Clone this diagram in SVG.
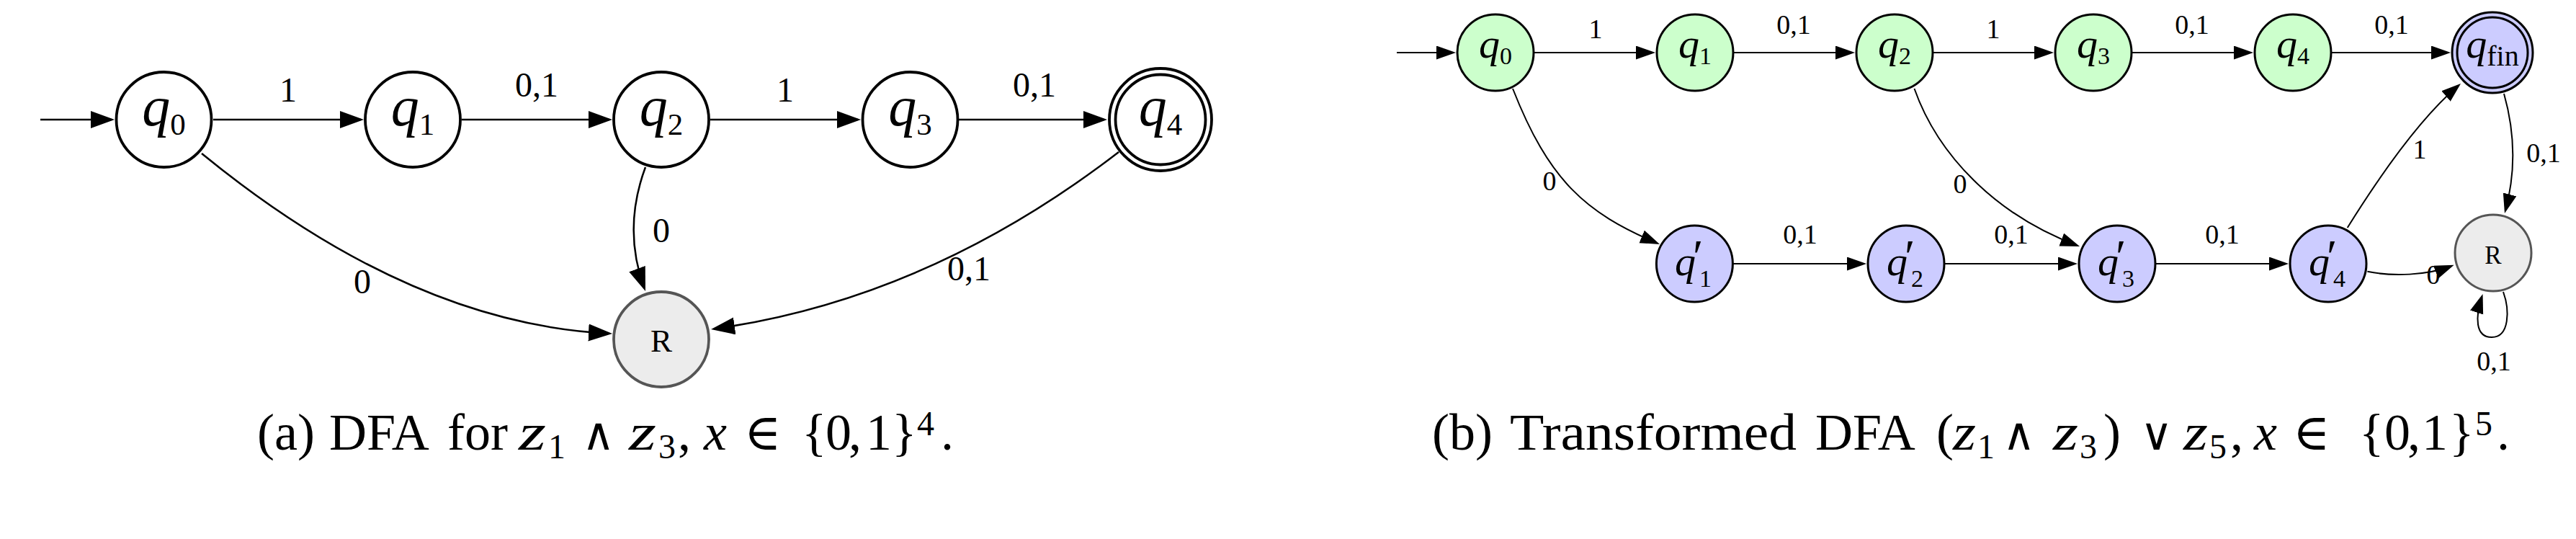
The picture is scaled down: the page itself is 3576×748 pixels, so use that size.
<svg xmlns="http://www.w3.org/2000/svg" width="3576" height="748" viewBox="0 0 3576 748">
<style>
text{font-family:"Liberation Serif","DejaVu Serif",serif;fill:#000}
.it{font-style:italic}
.nl{fill:#fff;stroke:#000;stroke-width:3.8}
.ng{fill:#ccffcc;stroke:#000;stroke-width:3}
.nb{fill:#ccccff;stroke:#000;stroke-width:3}
.rl{fill:#ececec;stroke:#555;stroke-width:3.8}
.rr{fill:#ececec;stroke:#555;stroke-width:3}
.el{fill:none;stroke:#000;stroke-width:2.5}
.er{fill:none;stroke:#000;stroke-width:2}
.lbL{font-size:48px;text-anchor:middle}
.lbR{font-size:38px;text-anchor:middle}
.qL{font-size:78px;text-anchor:middle}
.qR{font-size:58px;text-anchor:middle}
.qP{font-size:58px}
.subL{font-size:43px}
.subR{font-size:34px}
.cap{font-size:72px}
.cs{font-size:48px}
.op{font-size:62px}
.el2{font-size:70px}
</style>
<defs>
<marker id="aL" markerUnits="userSpaceOnUse" markerWidth="34" markerHeight="26" refX="29" refY="12" orient="auto"><path d="M0,0 L33,12 L0,24 z" fill="#000"/></marker>
<marker id="aR" markerUnits="userSpaceOnUse" markerWidth="28" markerHeight="20" refX="23" refY="9.5" orient="auto"><path d="M0,0 L27,9.5 L0,19 z" fill="#000"/></marker>
</defs>

<g id="connectors">
<!-- left DFA -->
<path class="el" d="M56,166 H155" marker-end="url(#aL)"/>
<path class="el" d="M296,166 H501" marker-end="url(#aL)"/>
<path class="el" d="M641,166 H846" marker-end="url(#aL)"/>
<path class="el" d="M986,166 H1191" marker-end="url(#aL)"/>
<path class="el" d="M1331,166 H1533" marker-end="url(#aL)"/>
<path class="el" d="M280,213 C472,370 662,454 846,462.8" marker-end="url(#aL)"/>
<path class="el" d="M896,232 C874.7,289.3 874.7,346.7 894.6,400.3" marker-end="url(#aL)"/>
<path class="el" d="M1553,211 C1376.3,347 1187.7,429 991,456.4" marker-end="url(#aL)"/>
<!-- right DFA -->
<path class="er" d="M1939,73 H2017" marker-end="url(#aR)"/>
<path class="er" d="M2129,73 H2294" marker-end="url(#aR)"/>
<path class="er" d="M2406,73 H2571" marker-end="url(#aR)"/>
<path class="er" d="M2683,73 H2847" marker-end="url(#aR)"/>
<path class="er" d="M2959,73 H3124" marker-end="url(#aR)"/>
<path class="er" d="M3236,73 H3398" marker-end="url(#aR)"/>
<path class="er" d="M2405.4,366 H2587" marker-end="url(#aR)"/>
<path class="er" d="M2699,366 H2880" marker-end="url(#aR)"/>
<path class="er" d="M2992,366 H3173" marker-end="url(#aR)"/>
<path class="er" d="M2100,123 C2150,250 2200,295 2300.3,337.4" marker-end="url(#aR)"/>
<path class="er" d="M2657.5,123 C2690,215 2770,298 2883.3,340.6" marker-end="url(#aR)"/>
<path class="er" d="M3258.7,316 C3317,222.5 3369.3,155.8 3413,118.6" marker-end="url(#aR)"/>
<path class="er" d="M3476,130 C3491.7,185.3 3492,240.7 3478,292.1" marker-end="url(#aR)"/>
<path class="er" d="M3286.4,376.8 C3321,384 3369.4,382.3 3402.9,369.3" marker-end="url(#aR)"/>
<path class="er" d="M3475,405 C3484,430 3484,468 3459,468 C3436,468 3436,440 3445.3,411.8" marker-end="url(#aR)"/>
<!-- edge labels left -->
<text class="lbL" x="400" y="141">1</text>
<text class="lbL" x="745" y="134">0,1</text>
<text class="lbL" x="1090" y="141">1</text>
<text class="lbL" x="1436" y="134">0,1</text>
<text class="lbL" x="503" y="407">0</text>
<text class="lbL" x="918" y="336">0</text>
<text class="lbL" x="1345" y="389">0,1</text>
<!-- edge labels right -->
<text class="lbR" x="2215" y="53">1</text>
<text class="lbR" x="2490" y="47">0,1</text>
<text class="lbR" x="2767" y="53">1</text>
<text class="lbR" x="3043" y="47">0,1</text>
<text class="lbR" x="3320" y="47">0,1</text>
<text class="lbR" x="2499" y="338">0,1</text>
<text class="lbR" x="2792" y="338">0,1</text>
<text class="lbR" x="3085" y="338">0,1</text>
<text class="lbR" x="2151" y="264">0</text>
<text class="lbR" x="2721" y="268">0</text>
<text class="lbR" x="3359" y="220">1</text>
<text class="lbR" x="3531" y="225">0,1</text>
<text class="lbR" x="3378" y="394">0</text>
<text class="lbR" x="3462" y="514">0,1</text>
</g>

<!-- left DFA nodes -->
<g id="L_q0"><circle class="nl" cx="227.5" cy="166" r="66"/><text class="qL" x="227.5" y="174"><tspan class="it">q</tspan><tspan class="subL" dy="13">0</tspan></text></g>
<g id="L_q1"><circle class="nl" cx="573" cy="166" r="66"/><text class="qL" x="573" y="174"><tspan class="it">q</tspan><tspan class="subL" dy="13">1</tspan></text></g>
<g id="L_q2"><circle class="nl" cx="918" cy="166" r="66"/><text class="qL" x="918" y="174"><tspan class="it">q</tspan><tspan class="subL" dy="13">2</tspan></text></g>
<g id="L_q3"><circle class="nl" cx="1263.5" cy="166" r="66"/><text class="qL" x="1263.5" y="174"><tspan class="it">q</tspan><tspan class="subL" dy="13">3</tspan></text></g>
<g id="L_q4"><circle class="nl" cx="1611" cy="166" r="71" stroke-width="3.4"/><circle class="nl" cx="1611" cy="166" r="62.5" stroke-width="3.4"/><text class="qL" x="1611" y="174"><tspan class="it">q</tspan><tspan class="subL" dy="13">4</tspan></text></g>
<g id="L_R"><circle class="rl" cx="918" cy="471" r="66"/><text x="918" y="488" font-size="45" text-anchor="middle">R</text></g>

<!-- right DFA nodes -->
<g id="R_q0"><circle class="ng" cx="2076" cy="73" r="53"/><text class="qR" x="2076" y="80"><tspan class="it">q</tspan><tspan class="subR" dy="9">0</tspan></text></g>
<g id="R_q1"><circle class="ng" cx="2353" cy="73" r="53"/><text class="qR" x="2353" y="80"><tspan class="it">q</tspan><tspan class="subR" dy="9">1</tspan></text></g>
<g id="R_q2"><circle class="ng" cx="2630" cy="73" r="53"/><text class="qR" x="2630" y="80"><tspan class="it">q</tspan><tspan class="subR" dy="9">2</tspan></text></g>
<g id="R_q3"><circle class="ng" cx="2906" cy="73" r="53"/><text class="qR" x="2906" y="80"><tspan class="it">q</tspan><tspan class="subR" dy="9">3</tspan></text></g>
<g id="R_q4"><circle class="ng" cx="3183" cy="73" r="53"/><text class="qR" x="3183" y="80"><tspan class="it">q</tspan><tspan class="subR" dy="9">4</tspan></text></g>
<g id="R_qfin"><circle class="nb" cx="3460" cy="73" r="56" stroke-width="2.6"/><circle class="nb" cx="3460" cy="73" r="49" stroke-width="2.6"/><text class="qR" x="3460" y="80"><tspan class="it">q</tspan><tspan font-size="40" dy="11">fin</tspan></text></g>
<g id="R_q1p"><circle class="nb" cx="2352.4" cy="366" r="53"/><text class="qP" x="2325" y="382"><tspan class="it">q</tspan><tspan x="2350" y="378" font-size="66">′</tspan><tspan class="subR" x="2359" y="398">1</tspan></text></g>
<g id="R_q2p"><circle class="nb" cx="2646" cy="366" r="53"/><text class="qP" x="2619" y="382"><tspan class="it">q</tspan><tspan x="2644" y="378" font-size="66">′</tspan><tspan class="subR" x="2653" y="398">2</tspan></text></g>
<g id="R_q3p"><circle class="nb" cx="2939" cy="366" r="53"/><text class="qP" x="2912" y="382"><tspan class="it">q</tspan><tspan x="2937" y="378" font-size="66">′</tspan><tspan class="subR" x="2946" y="398">3</tspan></text></g>
<g id="R_q4p"><circle class="nb" cx="3232" cy="366" r="53"/><text class="qP" x="3205" y="382"><tspan class="it">q</tspan><tspan x="3230" y="378" font-size="66">′</tspan><tspan class="subR" x="3239" y="398">4</tspan></text></g>
<g id="R_R"><circle class="rr" cx="3461" cy="351" r="53"/><text x="3461" y="366" font-size="35" text-anchor="middle">R</text></g>

<!-- captions -->
<g id="caption_a"><text class="cap" y="624"><tspan x="357">(a)</tspan><tspan x="457">DFA</tspan><tspan x="621">for</tspan><tspan x="720" class="it" textLength="38" lengthAdjust="spacingAndGlyphs">z</tspan><tspan dx="3" dy="12" class="cs">1</tspan><tspan x="808" y="624" class="op">∧</tspan><tspan x="873" class="it" textLength="38" lengthAdjust="spacingAndGlyphs">z</tspan><tspan dx="3" dy="12" class="cs">3</tspan><tspan x="941" y="624">,</tspan><tspan x="977" class="it">x</tspan><tspan x="1033" class="el2">∈</tspan><tspan x="1113">{</tspan><tspan x="1146">0</tspan><tspan x="1178">,</tspan><tspan x="1202">1</tspan><tspan x="1238">}</tspan><tspan x="1273" y="604" class="cs">4</tspan><tspan x="1306" y="624">.</tspan></text></g>
<g id="caption_b"><text class="cap" y="624"><tspan x="1988">(b)</tspan><tspan x="2096" textLength="398" lengthAdjust="spacingAndGlyphs">Transformed</tspan><tspan x="2520">DFA</tspan><tspan x="2688">(</tspan><tspan x="2711" class="it" textLength="32" lengthAdjust="spacingAndGlyphs">z</tspan><tspan dx="2" dy="12" class="cs">1</tspan><tspan x="2780" y="624" class="op">∧</tspan><tspan x="2850" class="it" textLength="35" lengthAdjust="spacingAndGlyphs">z</tspan><tspan dx="2" dy="12" class="cs">3</tspan><tspan x="2920" y="624">)</tspan><tspan x="2971" class="op">∨</tspan><tspan x="3031" class="it" textLength="34" lengthAdjust="spacingAndGlyphs">z</tspan><tspan dx="2" dy="12" class="cs">5</tspan><tspan x="3096" y="624">,</tspan><tspan x="3129" class="it">x</tspan><tspan x="3183" class="el2">∈</tspan><tspan x="3275">{</tspan><tspan x="3310">0</tspan><tspan x="3342">,</tspan><tspan x="3362">1</tspan><tspan x="3400">}</tspan><tspan x="3436" y="604" class="cs">5</tspan><tspan x="3466" y="624">.</tspan></text></g>
</svg>
